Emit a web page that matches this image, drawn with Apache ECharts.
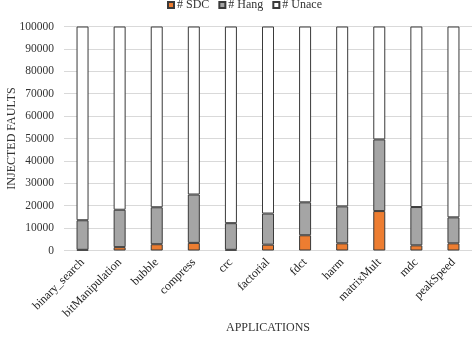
<!DOCTYPE html>
<html><head><meta charset="utf-8">
<script src="https://cdn.jsdelivr.net/npm/echarts@6/dist/echarts.min.js"></script>
<style>html,body{margin:0;padding:0;background:#fff}#c{width:474px;height:361px}</style>
</head><body><div id="c"></div>
<script>
const categories = ['binary_search','bitManipulation','bubble','compress','crc','factorial','fdct','harm','matrixMult','mdc','peakSpeed'];
const sdc   = [300, 1500, 2800, 3400, 300, 2600, 6800, 3200, 17600, 2300, 3200];
const hang  = [13200, 16700, 16500, 21600, 11900, 13900, 14700, 16500, 32000, 17100, 11600];
const unace = [86500, 81800, 80700, 75000, 87800, 83500, 78500, 80300, 50400, 80600, 85200];
const yTicks = [0,10000,20000,30000,40000,50000,60000,70000,80000,90000,100000];

const font = 'Liberation Serif';
const chart = echarts.init(document.getElementById('c'));
const mk = (name, data, color) => ({
  name, type: 'bar', stack: 'total', data, barWidth: 12,
  itemStyle: { color, borderColor: '#3a3a3a', borderWidth: 1 }
});
chart.setOption({
  animation: false,
  textStyle: { fontFamily: font },
  legend: {
    top: -1, left: 167, padding: 0, itemWidth: 6, itemHeight: 6, itemGap: 9, icon: 'rect',
    textStyle: { fontFamily: font, fontSize: 12, color: '#333', padding: [0, 0, 0, -2] },
    data: ['# SDC', '# Hang', '# Unace']
  },
  grid: { left: 64, right: 2, top: 26.5, bottom: 110.5, containLabel: false, outerBoundsMode: 'none' },
  xAxis: {
    type: 'category', data: categories,
    name: 'APPLICATIONS', nameLocation: 'middle', nameGap: 71, nameMoveOverlap: false,
    nameTextStyle: { fontFamily: font, fontSize: 12, color: '#333' },
    axisLine: { show: false }, axisTick: { show: false },
    axisLabel: { rotate: 45, interval: 0, fontFamily: font, fontSize: 12, color: '#222', margin: 10 }
  },
  yAxis: {
    type: 'value', min: yTicks[0], max: yTicks[yTicks.length-1], interval: 10000,
    name: 'INJECTED FAULTS', nameLocation: 'middle', nameGap: 46, nameRotate: 90, nameMoveOverlap: false,
    nameTextStyle: { fontFamily: font, fontSize: 12, color: '#333' },
    axisLine: { show: false }, axisTick: { show: false },
    axisLabel: { fontFamily: font, fontSize: 11.5, color: '#333', margin: 10, formatter: v => String(v) },
    splitLine: { lineStyle: { color: '#d9d9d9', width: 1 } }
  },
  series: [
    mk('# SDC', sdc, '#ed7d31'),
    mk('# Hang', hang, '#a5a5a5'),
    mk('# Unace', unace, '#ffffff')
  ]
});
</script></body></html>
